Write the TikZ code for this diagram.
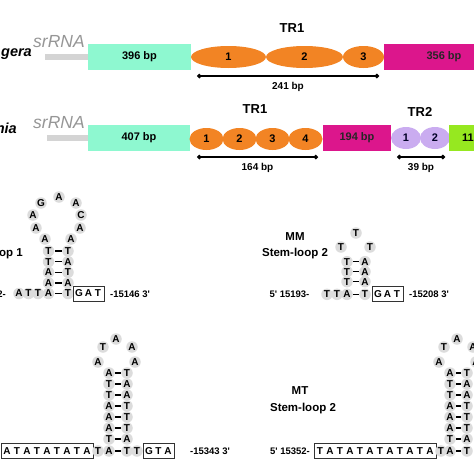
\documentclass[tikz,border=0pt]{standalone}
\usepackage{fontspec}
\setmainfont{Liberation Sans}
\usepackage{tikz}
\usetikzlibrary{shapes.geometric,arrows.meta,fit}
\definecolor{mintbox}{RGB}{142,248,208}
\definecolor{orangerep}{RGB}{242,132,36}
\definecolor{magentabox}{RGB}{220,22,140}
\definecolor{lilacrep}{RGB}{202,172,240}
\definecolor{limebox}{RGB}{150,232,32}
\definecolor{bargray}{RGB}{212,212,212}
\definecolor{srgray}{RGB}{150,150,150}
\definecolor{ntgray}{RGB}{220,220,220}
\newcommand{\tq}{\textquotesingle}
\begin{document}
\begin{tikzpicture}[x=1pt,y=-1pt,
  gene/.style={inner sep=0,minimum height=26,font=\bfseries\fontsize{11}{11}\selectfont},
  rep/.style={ellipse,inner sep=0,minimum height=22,font=\bfseries\fontsize{11}{11}\selectfont},
  trlabel/.style={inner sep=0,font=\bfseries\fontsize{13}{13}\selectfont},
  srlabel/.style={inner sep=0,anchor=base west,text=srgray,font=\itshape\fontsize{17.5}{17.5}\selectfont},
  species/.style={inner sep=0,anchor=base east,font=\bfseries\itshape\fontsize{14.5}{14.5}\selectfont},
  scalebar/.style={line width=1.2,{Circle[length=4.5pt]}-{Circle[length=4.5pt]}},
  barlabel/.style={inner sep=0,below=6pt,font=\bfseries\fontsize{10}{10}\selectfont},
  nt/.style={circle,fill=ntgray,inner sep=0,minimum size=11.5,font=\bfseries\fontsize{10}{10}\selectfont},
  ntb/.style={nt,fill=none,minimum size=10.5},
  bond/.style={line width=1.3,shorten >=0.4,shorten <=0.4},
  seqbox/.style={draw=black!80,line width=0.8,inner xsep=0.5,inner ysep=2},
  slabel/.style={inner sep=0,anchor=base,font=\bfseries\fontsize{11.5}{11.5}\selectfont},
  poslabel/.style={inner sep=0,anchor=base,font=\bfseries\fontsize{9.5}{9.5}\selectfont}]
\useasboundingbox (0,0) rectangle (474,474);
% gene map, first row:
\node[species] (spA) at (32,56) {gera};
\node[srlabel] (srA) at (33,47) {srRNA};
\path[fill=bargray] (45,54) rectangle (88,60);
\node[gene,fill=mintbox,minimum width=103] (mmA) at (139.5,57) {396 bp};
\node[rep,fill=orangerep,minimum width=75] (mmT1) at (228.5,57) {1};
\node[rep,fill=orangerep,minimum width=77] (mmT2) at (304.5,57) {2};
\node[rep,fill=orangerep,minimum width=41] (mmT3) at (363.5,57) {3};
\node[gene,fill=magentabox,minimum width=120,text=black!85] (mmB) at (444,57) {356 bp};
\node[trlabel] (mmTR) at (292,28.5) {TR1};
\coordinate (mmS1) at (197,76);
\coordinate (mmS2) at (379,76);
\draw[scalebar] (mmS1) -- node[barlabel] {241 bp} (mmS2);
% gene map, second row:
\node[species] (spB) at (17,133) {nia};
\node[srlabel] (srB) at (33,128) {srRNA};
\path[fill=bargray] (47,135) rectangle (88,141);
\node[gene,fill=mintbox,minimum width=102] (mtA) at (139,138) {407 bp};
\foreach \n/\x in {1/206.5,2/239.5,3/272.5,4/305.5}
  \node[rep,fill=orangerep,minimum width=34] (mtT\n) at (\x,139) {\n};
\node[gene,fill=magentabox,minimum width=68,text=black!85] (mtB) at (357,138) {194 bp};
\foreach \n/\x in {1/406,2/435}
  \node[rep,fill=lilacrep,minimum width=30,text=black!85!blue] (mtU\n) at (\x,138) {\n};
\node[gene,fill=limebox,minimum width=68,anchor=west] (mtC) at (449,138) {};
\node[gene,anchor=west] (mtCl) at (462,138) {11};
\node[trlabel] (mtTR1) at (255,109.5) {TR1};
\node[trlabel] (mtTR2) at (420,112) {TR2};
\coordinate (mtS1) at (197,157);
\coordinate (mtS2) at (318,157);
\coordinate (mtS3) at (397,157);
\coordinate (mtS4) at (445,157);
\draw[scalebar] (mtS1) -- node[barlabel] {164 bp} (mtS2);
\draw[scalebar] (mtS3) -- node[barlabel] {39 bp} (mtS4);
% stem-loop 1:
\node[slabel,anchor=base east] (slA) at (23,256.5) {op 1};
\foreach \b/\x/\y [count=\k] in {A/45/239,A/36/228,A/33/215,G/41/203,A/59/197,A/76/203,C/81/215,A/80/228,A/71/239}
  \node[nt] (sa\k) at (\x,\y) {\b};
\foreach \l/\r [count=\k] in {T/T,T/A,A/T,A/A} {
  \node[nt] (saL\k) at (48.5,{240.33+10.67*\k}) {\l};
  \node[nt] (saR\k) at (68,{240.33+10.67*\k}) {\r};
  \draw[bond] (saL\k) -- (saR\k);
}
\foreach \b/\x [count=\k] in {A/19,T/28.5,T/38,A/48.5}
  \node[nt] (sb\k) at (\x,293.5) {\b};
\node[nt] (sb5) at (68,293.5) {T};
\draw[bond] (sb4) -- (sb5);
\foreach \b/\x [count=\k] in {G/79,A/88.5,T/98}
  \node[ntb] (sg\k) at (\x,293.5) {\b};
\node[seqbox,fit=(sg1)(sg3)] (sgbox) {};
\node[poslabel,anchor=base east] (saP1) at (6,297) {2-};
\node[poslabel] (saP2) at (130,297) {-15146 3\tq};
% stem-loop 2, MM:
\node[slabel] (mmL1) at (295,240) {MM};
\node[slabel] (mmL2) at (295,256.5) {Stem-loop 2};
\foreach \b/\x/\y [count=\k] in {T/341/247,T/356/233,T/370/247}
  \node[nt] (ma\k) at (\x,\y) {\b};
\foreach \k in {1,2,3} {
  \node[nt] (maL\k) at (347,{251.7+10*\k}) {T};
  \node[nt] (maR\k) at (365,{251.7+10*\k}) {A};
  \draw[bond] (maL\k) -- (maR\k);
}
\foreach \b/\x [count=\k] in {T/327,T/337,A/347}
  \node[nt] (mb\k) at (\x,294.3) {\b};
\node[nt] (mb4) at (365,294.3) {T};
\draw[bond] (mb3) -- (mb4);
\foreach \b/\x [count=\k] in {G/378,A/387.5,T/397}
  \node[ntb] (mg\k) at (\x,294.3) {\b};
\node[seqbox,fit=(mg1)(mg3)] (mgbox) {};
\node[poslabel] (maP1) at (289.5,297.7) {5\tq{} 15193-};
\node[poslabel] (maP2) at (429,297.7) {-15208 3\tq};
% stem-loop 2, MT (left):
\foreach \b/\x/\y [count=\k] in {A/98/362,T/103/347,A/116/339,A/132/347,A/135/362}
  \node[nt] (ta\k) at (\x,\y) {\b};
\foreach \l/\r [count=\k] in {A/T,T/A,T/A,A/T,A/T,A/T,T/A} {
  \node[nt] (taL\k) at (109,{362+11*\k}) {\l};
  \node[nt] (taR\k) at (127,{362+11*\k}) {\r};
  \draw[bond] (taL\k) -- (taR\k);
}
\foreach \b [count=\k] in {A,T,A,T,A,T,A,T,A}
  \node[ntb] (tx\k) at ({-3+10*\k},451) {\b};
\node[seqbox,fit=(tx1)(tx9)] (txbox) {};
\foreach \b/\x [count=\k] in {T/98,A/109,T/127,T/137}
  \node[nt] (tb\k) at (\x,451) {\b};
\draw[bond] (tb2) -- (tb3);
\foreach \b/\x [count=\k] in {G/149,T/158.5,A/168}
  \node[ntb] (tg\k) at (\x,451) {\b};
\node[seqbox,fit=(tg1)(tg3)] (tgbox) {};
\node[poslabel] (taP) at (210,454.5) {-15343 3\tq};
% stem-loop 2, MT (right):
\node[slabel] (mtL1) at (300,394) {MT};
\node[slabel] (mtL2) at (303,411.7) {Stem-loop 2};
\foreach \b/\x/\y [count=\k] in {A/439/362,T/444/347,A/457/339,A/473/347,A/476/362}
  \node[nt] (ra\k) at (\x,\y) {\b};
\foreach \l/\r [count=\k] in {A/T,T/A,T/A,A/T,A/T,A/T,T/A} {
  \node[nt] (raL\k) at (450,{362+11*\k}) {\l};
  \node[nt] (raR\k) at (467,{362+11*\k}) {\r};
  \draw[bond] (raL\k) -- (raR\k);
}
\foreach \b [count=\k] in {T,A,T,A,T,A,T,A,T,A,T,A}
  \node[ntb] (rx\k) at ({310+10*\k},451) {\b};
\node[seqbox,fit=(rx1)(rx12)] (rxbox) {};
\foreach \b/\x [count=\k] in {T/441,A/450,T/467}
  \node[nt] (rb\k) at (\x,451) {\b};
\draw[bond] (rb2) -- (rb3);
\node[poslabel] (raP) at (290,454.5) {5\tq{} 15352-};
\end{tikzpicture}
\end{document}
